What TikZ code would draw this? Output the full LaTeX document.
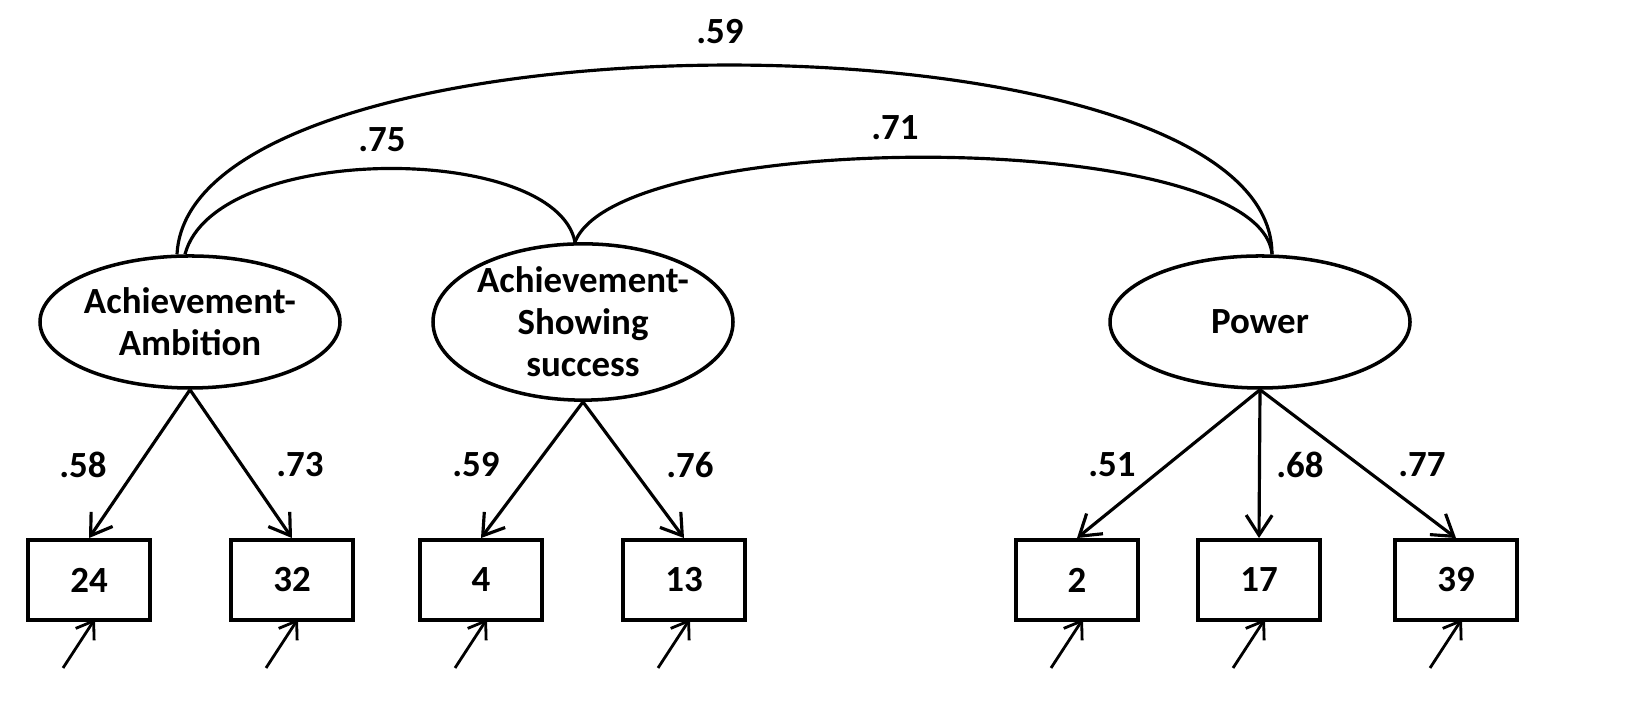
\documentclass[tikz,border=0pt]{standalone}
\usepackage{fontspec}
\setmainfont{Carlito}
\usetikzlibrary{arrows.meta,shapes.geometric}
\begin{document}
\begin{tikzpicture}[
    font=\fontsize{10.5}{12}\selectfont\bfseries,
    latent/.style={draw,line width=1pt,ellipse,minimum width=3cm,minimum height=1.32cm,align=center,inner sep=0pt},
    item/.style={draw,line width=1.1pt,minimum width=1.22cm,minimum height=0.8cm},
    load/.style={->,line width=0.9pt,>={Straight Barb[length=2mm,width=2.6mm]}},
    err/.style={->,line width=0.8pt,>={Straight Barb[length=1.6mm,width=2.2mm]}}]
    \useasboundingbox (0,0) rectangle (16.46,7.17);
    % Latent factors
    \node[latent] (amb) at (1.90,3.95) {Achievement-\\Ambition};
    \node[latent,minimum height=1.36cm] (show) at (5.83,3.95) {Achievement-\\Showing\\success};
    \node[latent] (pow) at (12.60,3.95) {Power};
    
    % Items
    \node[item] (i24) at (0.89,1.37) {24};
    \node[item] (i32) at (2.92,1.37) {32};
    \node[item] (i4) at (4.81,1.37) {4};
    \node[item] (i13) at (6.84,1.37) {13};
    \node[item] (i2) at (10.77,1.37) {2};
    \node[item] (i17) at (12.59,1.37) {17};
    \node[item] (i39) at (14.56,1.37) {39};
    
    % Loadings
    \draw[load] (amb.south) -- (i24.north);
    \draw[load] (amb.south) -- (i32.north);
    \draw[load] (show.south) -- (i4.north);
    \draw[load] (show.south) -- (i13.north);
    \draw[load] (pow.south) -- (i2.north);
    \draw[load] (pow.south) -- (i17.north);
    \draw[load] (pow.south) -- (i39.north);
    \node at (0.83,2.52) {.58};
    \node at (3.00,2.52) {.73};
    \node at (4.76,2.52) {.59};
    \node at (6.90,2.52) {.76};
    \node at (11.12,2.52) {.51};
    \node at (13.00,2.52) {.68};
    \node at (14.22,2.52) {.77};
    
    % Error terms
    \foreach \i in {i24,i32,i4,i13,i2,i17,i39}{
        \coordinate (e\i) at ([xshift=-0.26cm,yshift=-0.88cm]\i.center);
        \draw[err] (e\i) -- ([xshift=0.06cm,yshift=0.03cm]\i.south);
    }
    
    % Correlations
    \draw[line width=0.9pt] ([xshift=-0.05cm]amb.north) .. controls (2.15,5.75) and (5.55,5.75) .. ([xshift=-0.08cm]show.north);
    \draw[line width=0.9pt] ([xshift=-0.08cm]show.north) .. controls (6.2,5.9) and (12.6,5.9) .. ([xshift=0.12cm]pow.north);
    \draw[line width=0.9pt] ([xshift=-0.13cm]amb.north) .. controls (1.9,7.15) and (12.72,7.15) .. ([xshift=0.12cm]pow.north);
    \node at (3.82,5.77) {.75};
    \node at (8.95,5.89) {.71};
    \node at (7.20,6.85) {.59};
\end{tikzpicture}
\end{document}
